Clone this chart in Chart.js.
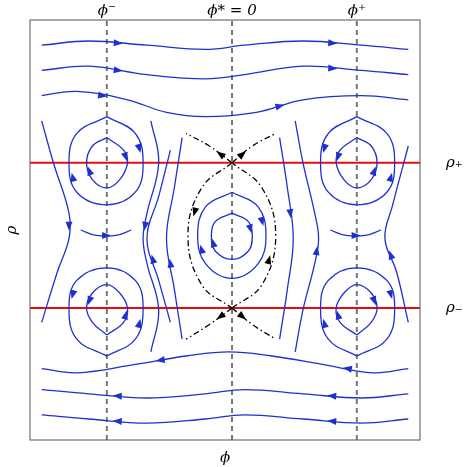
<!DOCTYPE html>
<html><head><meta charset="utf-8">
<script src="https://cdn.jsdelivr.net/npm/chart.js@4/dist/chart.umd.min.js"></script>
<style>body{margin:0;background:#fff}#wrap{width:474px;height:467px}</style>
</head><body><div id="wrap"><canvas id="myChart"></canvas></div>
<script>
"strict mode";

// fixed-point positions (plot units 0..100)
const phiLines = [19.7, 51.8, 83.8];
const phiLabels = ["ϕ⁻", "ϕ* = 0", "ϕ⁺"];
const rhoLines = [66, 31.4];
const rhoLabels = ["ρ₊", "ρ₋"];

// blue streamlines
const topFlows = [
  [[3,94],[15,95],[30,94],[45,93],[55,94],[70,95],[85,94],[97,93]],
  [[3,88],[15,89],[30,87],[45,86],[55,87],[70,89],[85,88],[97,87]],
  [[3,82],[12,83],[25,81],[35,78],[45,77],[58,78],[70,81],[85,82],[97,81]]
];
const bottomFlows = [
  [[97,5],[85,4],[70,5],[55,6],[45,5],[30,4],[15,5],[3,6]],
  [[97,11],[85,10],[70,11],[55,12],[45,11],[30,10],[15,11],[3,12]],
  [[97,17],[88,16],[75,18],[62,20],[51,21],[40,20],[27,18],[12,16],[3,17]]
];
const orbits = [
  [[19.7,72],[24,69],[25,66],[23,62],[19.7,60],[16,62],[14.5,66],[16,70],[19.7,72]],
  [[19.7,77],[27,73],[29,66],[27,59],[19.7,56],[12,59],[10,66],[12,73],[19.7,77]],
  [[19.7,25],[24,28],[25,31.4],[23,35],[19.7,37],[16,35],[14.5,31.4],[16,28],[19.7,25]],
  [[19.7,20],[27,24],[29,31.4],[27,38],[19.7,41],[12,38],[10,31.4],[12,24],[19.7,20]],
  [[83.8,72],[79.5,69],[78.5,66],[80.5,62],[83.8,60],[87.5,62],[89,66],[87.5,70],[83.8,72]],
  [[83.8,77],[76.5,73],[74.5,66],[76.5,59],[83.8,56],[91.5,59],[93.5,66],[91.5,73],[83.8,77]],
  [[83.8,25],[79.5,28],[78.5,31.4],[80.5,35],[83.8,37],[87.5,35],[89,31.4],[87.5,28],[83.8,25]],
  [[83.8,20],[76.5,24],[74.5,31.4],[76.5,38],[83.8,41],[91.5,38],[93.5,31.4],[91.5,24],[83.8,20]],
  [[51.8,54],[56,52],[57,48.7],[56,45],[51.8,43],[47.5,45],[46.5,48.7],[47.5,52],[51.8,54]],
  [[51.8,59],[58.5,55.5],[60.5,48.7],[58.5,42],[51.8,38.5],[45,42],[43,48.7],[45,55.5],[51.8,59]]
];
const sideFlows = [
  [[3,76],[6,66],[10,54],[10,48],[7,40],[3,28]],
  [[13,50],[17,48.7],[22,48.7],[26,50]],
  [[77,50],[81,48.7],[86,48.7],[90,50]],
  [[36,28],[33,38],[30,48],[33,58],[36,69]],
  [[39,24],[37,36],[35,48],[37,60],[39,72]],
  [[31,76],[33,66],[30,54],[29,48],[30,42],[33,31],[31,21]],
  [[68,21],[70,31],[73,42],[74,48],[73,54],[70,66],[68,76]],
  [[64,72],[66,60],[67.5,48],[66,36],[64,24]],
  [[97,28],[94,40],[91,48],[93,56],[97,70]]
];
// black dash-dot separatrices
const separatrices = [
  [[51.8,66],[44,60],[40.5,48.7],[44,37],[51.8,31.4]],
  [[51.8,31.4],[59.5,37],[63,48.7],[59.5,60],[51.8,66]],
  [[51.8,66],[46,70],[40,73]],
  [[51.8,66],[57,70],[63,73]],
  [[51.8,31.4],[46,27.5],[40,24]],
  [[51.8,31.4],[57,27.5],[63,24]]
];

const toPts = a => a.map(p => ({ x: p[0], y: p[1] }));
const datasets = [];
[...topFlows, ...bottomFlows, ...orbits, ...sideFlows].forEach(s => datasets.push({
  data: toPts(s), borderColor: "#2030d0", borderWidth: 1.3, pointRadius: 0, tension: 0.4, arrow: true
}));
separatrices.forEach(s => datasets.push({
  data: toPts(s), borderColor: "#000", borderWidth: 1.3, borderDash: [6, 3, 1.5, 3], pointRadius: 0, tension: 0.4, arrow: true, arrowColor: "#000"
}));
phiLines.forEach(x => datasets.push({
  data: [{ x: x, y: 0 }, { x: x, y: 100 }], borderColor: "#777", borderWidth: 2, borderDash: [5, 4], pointRadius: 0
}));
rhoLines.forEach(y => datasets.push({
  data: [{ x: 0, y: y }, { x: 100, y: y }], borderColor: "#e01010", borderWidth: 2, pointRadius: 0
}));

const decor = {
  id: "decor",
  afterDatasetsDraw(chart) {
    const { ctx, chartArea: a, scales: { x, y } } = chart;
    chart.data.datasets.forEach((ds, i) => {
      if (!ds.arrow) return;
      const pts = chart.getDatasetMeta(i).data;
      const n = pts.length;
      const marks = n >= 8 ? [Math.floor(n / 4), Math.floor(3 * n / 4)] : [Math.floor(n / 2)];
      marks.forEach(k => {
        const p0 = pts[k - 1] || pts[k], p1 = pts[k];
        const ang = Math.atan2(p1.y - p0.y, p1.x - p0.x);
        const mx = (p0.x + p1.x) / 2, my = (p0.y + p1.y) / 2;
        ctx.save();
        ctx.translate(mx, my);
        ctx.rotate(ang);
        ctx.fillStyle = ds.arrowColor || "#2030d0";
        ctx.beginPath();
        ctx.moveTo(5, 0); ctx.lineTo(-4, 3.5); ctx.lineTo(-4, -3.5);
        ctx.closePath(); ctx.fill();
        ctx.restore();
      });
    });
    ctx.save();
    ctx.strokeStyle = "#555"; ctx.lineWidth = 1;
    ctx.strokeRect(a.left, a.top, a.right - a.left, a.bottom - a.top);
    ctx.fillStyle = "#000";
    ctx.font = "italic 15px 'DejaVu Serif'";
    ctx.textAlign = "center"; ctx.textBaseline = "bottom";
    phiLines.forEach((v, i) => ctx.fillText(phiLabels[i], x.getPixelForValue(v), a.top - 1));
    ctx.textAlign = "left"; ctx.textBaseline = "middle";
    rhoLines.forEach((v, i) => ctx.fillText(rhoLabels[i], a.right + 26, y.getPixelForValue(v)));
    ctx.textAlign = "center";
    ctx.fillText("ϕ", (a.left + a.right) / 2, a.bottom + 18);
    ctx.translate(a.left - 18, (a.top + a.bottom) / 2);
    ctx.rotate(-Math.PI / 2);
    ctx.fillText("ρ", 0, 0);
    ctx.restore();
  }
};

new Chart(document.getElementById("myChart"), {
  type: "line",
  data: { datasets: datasets },
  options: {
    responsive: true, maintainAspectRatio: false, animation: false,
    layout: { padding: { left: 30, right: 54, top: 20, bottom: 27 } },
    plugins: { legend: { display: false }, tooltip: { enabled: false } },
    scales: {
      x: { type: "linear", min: 0, max: 100, display: false },
      y: { type: "linear", min: 0, max: 100, display: false }
    }
  },
  plugins: [decor]
});
</script></body></html>
